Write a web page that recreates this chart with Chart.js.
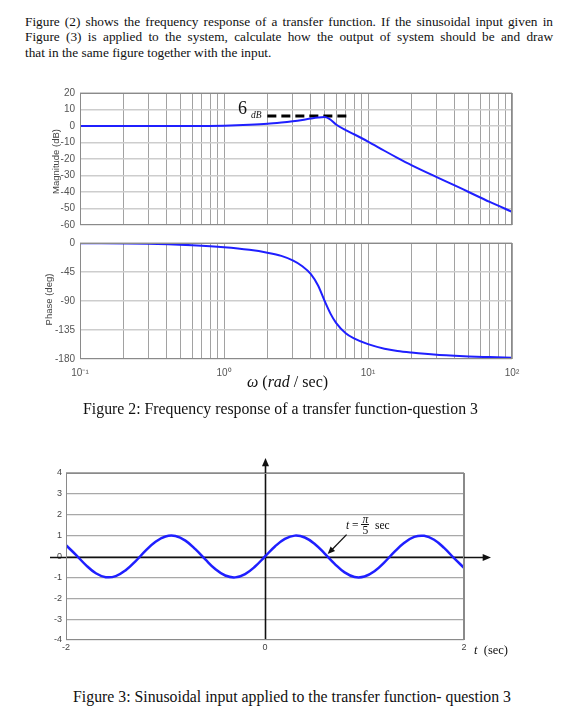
<!DOCTYPE html>
<html>
<head>
<meta charset="utf-8">
<script src="https://cdn.jsdelivr.net/npm/chart.js@4.4.1/dist/chart.umd.min.js"></script>
<style>
  html, body { margin: 0; padding: 0; background: #fff; }
  #page { position: relative; width: 579px; height: 722px; overflow: hidden;
          font-family: "Liberation Serif", "DejaVu Serif", serif; color: #111; }
  .abs { position: absolute; }
  #question { left: 25px; top: 14px; width: 528px; font-size: 13.3px; line-height: 15.3px; }
  #question .jl { text-align: justify; text-align-last: justify; }
  .ylab { font-family: "Liberation Sans", Arial, sans-serif; font-size: 9.5px; color: #444;
          transform: rotate(-90deg); transform-origin: center center; white-space: nowrap;
          width: 120px; text-align: center; }
  .caption { font-size: 15.8px; text-align: center; white-space: nowrap; }
  canvas { display: block; }
</style>
</head>
<body>
<div id="page">
  <div id="question" class="abs">
    <div class="jl">Figure (2) shows the frequency response of a transfer function. If the sinusoidal input given in</div>
    <div class="jl">Figure (3) is applied to the system, calculate how the output of system should be and draw</div>
    <div>that in the same figure together with the input.</div>
  </div>

  <div class="abs" style="left:0; top:80px;"><canvas id="magChart" width="530" height="156"></canvas></div>
  <div class="abs" style="left:0; top:232px;"><canvas id="phaseChart" width="530" height="150"></canvas></div>

  <div class="abs ylab" style="left:-5px; top:156px;">Magnitude (dB)</div>
  <div class="abs ylab" style="left:-12px; top:294px;">Phase (deg)</div>

  <div class="abs" style="left:238px; top:98px; font-size:18px;">6</div>
  <div class="abs" style="left:251px; top:110px; font-size:9.5px; font-style:italic;">dB</div>

  <div class="abs" style="left:247px; top:373px; font-size:16px;"><i>ω</i> (<i>rad</i> / sec)</div>
  <div class="abs caption" style="left:80px; width:401px; top:400px;">Figure 2: Frequency response of a transfer function-question 3</div>

  <div class="abs" style="left:0; top:445px;"><canvas id="inputChart" width="579" height="215"></canvas></div>

  <div class="abs" style="left:346px; top:514px; font-size:11.5px; display:flex; align-items:center;">
    <i>t</i>&nbsp;=&nbsp;<span style="display:inline-flex; flex-direction:column; align-items:center; line-height:10px;">
      <i style="border-bottom:1px solid #111; padding:0 1px;">π</i><span>5</span></span>&nbsp;&nbsp;sec
  </div>

  <div class="abs" style="left:474px; top:643px; font-size:12.5px;"><i>t</i>&nbsp;&nbsp;(sec)</div>
  <div class="abs caption" style="left:69px; width:446px; top:688px;">Figure 3: Sinusoidal input applied to the transfer function- question 3</div>
</div>

<script>
// ==============================
// DATA
// ==============================
const freqs = [0.1, 0.3, 0.6, 1, 1.5, 2, 2.5, 3, 3.5, 4, 4.5, 5, 5.5, 6, 7, 8, 10, 13, 16, 20, 30, 40, 50, 70, 100];
const magDb = [0, 0, 0, 0.2, 0.7, 1.3, 2.1, 2.9, 3.7, 4.5, 5.1, 5.4, 3.8, 0.9, -2.5, -5, -9.4, -15, -19.3, -23.7, -31, -36, -40, -46, -52];
const phaseDeg = [-0.3, -1, -3.5, -6.5, -10.5, -15, -20, -27, -36, -48, -66, -90, -110, -124, -140, -148, -157, -164, -167.5, -170, -173.5, -175, -176, -177, -178];

// 6 dB peak marker
const peakFreqs = [2, 7.4];
const peakDb = [6, 6];

const bodeTickValues = [0.1, 0.2, 0.3, 0.4, 0.5, 0.6, 0.7, 0.8, 0.9,
  1, 2, 3, 4, 5, 6, 7, 8, 9,
  10, 20, 30, 40, 50, 60, 70, 80, 90, 100];
const bodeTickLabels = { 0.1: "10⁻¹", 1: "10⁰", 10: "10¹", 100: "10²" };

const tSec = [-2, -1.9, -1.8, -1.7, -1.6, -1.5, -1.4, -1.3, -1.2, -1.1, -1, -0.9, -0.8, -0.7, -0.6, -0.5, -0.4, -0.3, -0.2, -0.1,
  0, 0.1, 0.2, 0.3, 0.4, 0.5, 0.6, 0.7, 0.8, 0.9, 1, 1.1, 1.2, 1.3, 1.4, 1.5, 1.6, 1.7, 1.8, 1.9, 2];
const inputSignal = [0.54, 0.08, -0.41, -0.8, -0.99, -0.94, -0.66, -0.22, 0.28, 0.71, 0.96, 0.98, 0.76, 0.35, -0.14, -0.6, -0.91, -1, -0.84, -0.48,
  0, 0.48, 0.84, 1, 0.91, 0.6, 0.14, -0.35, -0.76, -0.98, -0.96, -0.71, -0.28, 0.22, 0.66, 0.94, 0.99, 0.8, 0.41, -0.08, -0.54];

// arrow of the "t = pi/5 sec" note: from -> to, in data units
const noteFrom = { x: 0.82, y: 1.05 };
const noteTo = { x: 0.63, y: 0.12 };

const CURVE_BLUE = "#1f1fff";
const tickFont = { family: "'Liberation Sans', Arial, sans-serif", size: 9 };
const bodeTickFont = { family: "'Liberation Sans', Arial, sans-serif", size: 10 };

// ==============================
// PLUGINS
// ==============================
const framePlugin = {
  id: "frame",
  afterDraw(chart, args, opts) {
    const { ctx, chartArea: a } = chart;
    ctx.save();
    ctx.strokeStyle = opts.color || "#8a8a8a";
    ctx.lineWidth = 1;
    ctx.strokeRect(Math.round(a.left) + 0.5, Math.round(a.top) + 0.5, Math.round(a.width) - 1, Math.round(a.height) - 1);
    ctx.restore();
  },
};

function arrowHead(ctx, x, y, angle, size) {
  ctx.beginPath();
  ctx.moveTo(x, y);
  ctx.lineTo(x - size * Math.cos(angle - 0.4), y - size * Math.sin(angle - 0.4));
  ctx.lineTo(x - size * Math.cos(angle + 0.4), y - size * Math.sin(angle + 0.4));
  ctx.closePath();
  ctx.fill();
}

const axesArrowPlugin = {
  id: "axesArrows",
  beforeDatasetsDraw(chart) {
    const { ctx, scales: { x, y } } = chart;
    const x0 = Math.round(x.getPixelForValue(0)) + 0.5;
    const y0 = Math.round(y.getPixelForValue(0)) + 0.5;
    ctx.save();
    ctx.strokeStyle = "#111";
    ctx.fillStyle = "#111";
    ctx.lineWidth = 1.6;
    // horizontal axis
    ctx.beginPath();
    ctx.moveTo(x.left - 16, y0);
    ctx.lineTo(x.right + 20, y0);
    ctx.stroke();
    arrowHead(ctx, x.right + 27, y0, 0, 9);
    // vertical axis
    ctx.beginPath();
    ctx.moveTo(x0, y.bottom);
    ctx.lineTo(x0, y.top - 8);
    ctx.stroke();
    arrowHead(ctx, x0, y.top - 15, -Math.PI / 2, 9);
    ctx.restore();
  },
  afterDatasetsDraw(chart) {
    const { ctx, scales: { x, y } } = chart;
    const fx = x.getPixelForValue(noteFrom.x), fy = y.getPixelForValue(noteFrom.y);
    const tx = x.getPixelForValue(noteTo.x), ty = y.getPixelForValue(noteTo.y);
    const ang = Math.atan2(ty - fy, tx - fx);
    ctx.save();
    ctx.strokeStyle = "#111";
    ctx.fillStyle = "#111";
    ctx.lineWidth = 1.3;
    ctx.beginPath();
    ctx.moveTo(fx, fy);
    ctx.lineTo(tx - 6 * Math.cos(ang), ty - 6 * Math.sin(ang));
    ctx.stroke();
    arrowHead(ctx, tx, ty, ang, 8);
    ctx.restore();
  },
};

// ==============================
// BODE CHARTS
// ==============================
function bodeOptions(yMin, yMax, yStep, showX, padding) {
  return {
    responsive: false,
    animation: false,
    layout: { padding },
    plugins: {
      legend: { display: false },
      tooltip: { enabled: false },
      frame: { color: "#8a8a8a" },
    },
    scales: {
      x: {
        type: "logarithmic",
        min: 0.1,
        max: 100,
        afterBuildTicks: (s) => { s.ticks = bodeTickValues.map((v) => ({ value: v })); },
        afterFit: (s) => { s.height = showX ? 23 : 0; },
        ticks: {
          display: showX,
          autoSkip: false,
          maxRotation: 0,
          padding: 8,
          color: "#555",
          font: bodeTickFont,
          callback: (v) => bodeTickLabels[v] || "",
        },
        grid: { color: "#a2a2a2", lineWidth: 1, drawTicks: false },
        border: { display: false },
      },
      y: {
        min: yMin,
        max: yMax,
        afterFit: (s) => { s.width = 80; },
        ticks: { stepSize: yStep, padding: 5, color: "#555", font: bodeTickFont },
        grid: { color: "#cdcdcd", lineWidth: 1.5, drawTicks: false },
        border: { display: false },
      },
    },
  };
}

new Chart(document.getElementById("magChart"), {
  type: "line",
  data: {
    datasets: [
      {
        data: freqs.map((f, i) => ({ x: f, y: magDb[i] })),
        borderColor: CURVE_BLUE,
        borderWidth: 2,
        pointRadius: 0,
        cubicInterpolationMode: "monotone",
      },
      {
        data: peakFreqs.map((f, i) => ({ x: f, y: peakDb[i] })),
        borderColor: "#000",
        borderWidth: 3,
        borderDash: [9, 5],
        pointRadius: 0,
      },
    ],
  },
  options: bodeOptions(-60, 20, 10, false, { top: 13, bottom: 7, left: 0, right: 18 }),
  plugins: [framePlugin],
});

new Chart(document.getElementById("phaseChart"), {
  type: "line",
  data: {
    datasets: [
      {
        data: freqs.map((f, i) => ({ x: f, y: phaseDeg[i] })),
        borderColor: CURVE_BLUE,
        borderWidth: 2,
        pointRadius: 0,
        cubicInterpolationMode: "monotone",
      },
    ],
  },
  options: bodeOptions(-180, 0, 45, true, { top: 8, bottom: 0, left: 0, right: 18 }),
  plugins: [framePlugin],
});

// ==============================
// SINUSOIDAL INPUT
// ==============================
new Chart(document.getElementById("inputChart"), {
  type: "line",
  data: {
    datasets: [
      {
        data: tSec.map((t, i) => ({ x: t, y: inputSignal[i] })),
        borderColor: CURVE_BLUE,
        borderWidth: 2.5,
        pointRadius: 0,
        tension: 0.4,
      },
    ],
  },
  options: {
    responsive: false,
    animation: false,
    layout: { padding: { top: 28, right: 115, left: 0, bottom: 0 } },
    plugins: {
      legend: { display: false },
      tooltip: { enabled: false },
      frame: { color: "#8a8a8a" },
    },
    scales: {
      x: {
        type: "linear",
        min: -2,
        max: 2,
        afterFit: (s) => { s.height = 20; },
        ticks: { stepSize: 2, padding: 2, color: "#444", font: tickFont, maxRotation: 0 },
        grid: {
          drawTicks: false,
          color: (c) => (c.tick && c.tick.value === 0 ? "rgba(0,0,0,0)" : "#8a8a8a"),
        },
        border: { display: false },
      },
      y: {
        min: -4,
        max: 4,
        afterFit: (s) => { s.width = 66; },
        ticks: { stepSize: 1, padding: 4, color: "#444", font: tickFont },
        grid: { color: "#a8a8a8", lineWidth: 1.2, drawTicks: false },
        border: { display: false },
      },
    },
  },
  plugins: [framePlugin, axesArrowPlugin],
});
</script>
</body>
</html>
